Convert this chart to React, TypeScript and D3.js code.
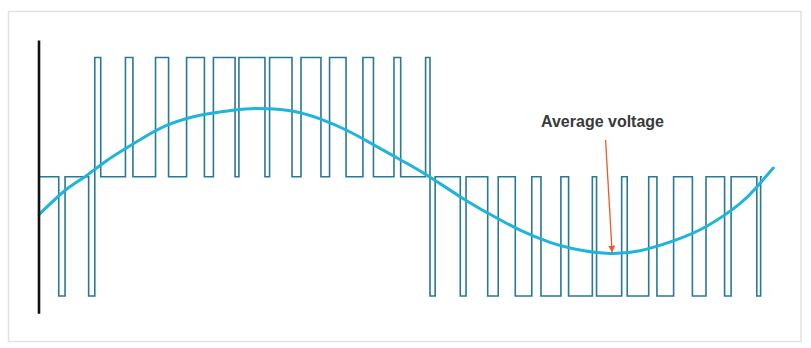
import React, { useEffect, useRef } from "react";
import * as d3 from "d3";

// Phase angle (degrees) of each switching edge, and the output level that follows it.
const pwmTimes = [
  -24.0, -13.7, -10.4, 1.9, 5.1, 8.2, 21.1, 25.0, 36.8, 43.6, 53.0, 62.3, 67.0, 78.3,
  80.3, 93.9, 96.3, 108.0, 112.7, 123.1, 127.6, 136.2, 145.0, 150.5, 161.2, 164.7,
  177.7, 180.0, 182.7, 195.8, 198.8, 210.1, 215.6, 224.5, 233.1, 237.9, 248.3, 252.3,
  264.7, 266.9, 280.0, 282.9, 294.1, 298.4, 307.1, 316.9, 324.0, 333.7, 337.1, 350.5,
  352.5, 353.2,
];
const pwmLevels = [
  0, -1, 0, -1, 1, 0, 1, 0, 1, 0, 1, 0, 1, 0,
  1, 0, 1, 0, 1, 0, 1, 0, 1, 0, 1, 0,
  1, -1, 0, -1, 0, -1, 0, -1, 0, -1, 0, -1,
  0, -1, 0, -1, 0, -1, 0, -1, 0, -1, 0, -1,
  0, 0,
];

// Resulting average voltage across the cycle.
const avgTimes = [
  -24.0, -10.4, 0, 11.3, 28.7, 42.6, 60.0, 77.2, 89.7, 107.0, 122.6, 136.5, 148.7,
  164.3, 178.3, 195.7, 211.3, 227.0, 242.6, 254.8, 272.2, 289.6, 306.9, 324.4, 341.7,
  350.4, 359.1,
];
const avgValues = [
  -0.317, -0.115, 0, 0.135, 0.31, 0.43, 0.515, 0.558, 0.572, 0.553, 0.485, 0.39, 0.285,
  0.145, 0.015, -0.167, -0.315, -0.447, -0.55, -0.603, -0.642, -0.62, -0.538, -0.415,
  -0.226, -0.088, 0.073,
];

const annotationText = "Average voltage";
const annotationAngle = 275;

const W = 811;
const H = 348;

export default function App() {
  const ref = useRef<SVGSVGElement | null>(null);

  useEffect(() => {
    const svg = d3.select(ref.current);
    svg.selectAll("*").remove();

    const x = d3.scaleLinear().domain([-24, 360]).range([39, 775]);
    const y = d3.scaleLinear().domain([-1, 1]).range([296, 57.5]);

    // frame
    svg
      .append("rect")
      .attr("x", 8.5)
      .attr("y", 11.5)
      .attr("width", 792.5)
      .attr("height", 330)
      .attr("fill", "#fff")
      .attr("stroke", "#e2e2e2")
      .attr("stroke-width", 1.5);

    // defs: arrow head
    svg
      .append("defs")
      .append("marker")
      .attr("id", "arrowHead")
      .attr("viewBox", "0 0 10 10")
      .attr("refX", 9)
      .attr("refY", 5)
      .attr("markerWidth", 7)
      .attr("markerHeight", 7)
      .attr("markerUnits", "userSpaceOnUse")
      .attr("orient", "auto")
      .append("path")
      .attr("d", "M0,0 L10,5 L0,10 Z")
      .attr("fill", "#f0582a");

    // PWM output
    const pwmPts: [number, number][] = pwmTimes.map((t, i) => [t, pwmLevels[i]]);
    svg
      .append("path")
      .attr(
        "d",
        d3
          .line<[number, number]>()
          .x((d) => x(d[0]))
          .y((d) => y(d[1]))
          .curve(d3.curveStepAfter)(pwmPts)
      )
      .attr("fill", "none")
      .attr("stroke", "#2a7895")
      .attr("stroke-width", 1.6);

    // average voltage curve
    const avgPts: [number, number][] = avgTimes.map((t, i) => [t, avgValues[i]]);
    svg
      .append("path")
      .attr(
        "d",
        d3
          .line<[number, number]>()
          .x((d) => x(d[0]))
          .y((d) => y(d[1]))
          .curve(d3.curveNatural)(avgPts)
      )
      .attr("fill", "none")
      .attr("stroke", "#1fb4da")
      .attr("stroke-width", 3)
      .attr("stroke-linecap", "round");

    // vertical axis
    svg
      .append("line")
      .attr("x1", x(-24))
      .attr("x2", x(-24))
      .attr("y1", y(1.142))
      .attr("y2", y(-1.148))
      .attr("stroke", "#111")
      .attr("stroke-width", 2.6);

    // annotation
    const idx = d3.bisectLeft(avgTimes, annotationAngle);
    const t0 = avgTimes[idx - 1];
    const t1 = avgTimes[idx];
    const v =
      avgValues[idx - 1] +
      ((annotationAngle - t0) / (t1 - t0)) * (avgValues[idx] - avgValues[idx - 1]);
    svg
      .append("line")
      .attr("x1", x(annotationAngle) - 6.5)
      .attr("y1", 140)
      .attr("x2", x(annotationAngle))
      .attr("y2", y(v) - 1)
      .attr("stroke", "#f0582a")
      .attr("stroke-width", 1.3)
      .attr("marker-end", "url(#arrowHead)");

    svg
      .append("text")
      .attr("x", 541)
      .attr("y", 127)
      .attr("font-family", "'Liberation Sans', Arial, sans-serif")
      .attr("font-weight", "bold")
      .attr("font-size", 16)
      .attr("fill", "#3a3a3a")
      .text(annotationText);
  }, []);

  return (
    <svg
      ref={ref}
      width={W}
      height={H}
      style={{ position: "absolute", left: 0, top: 0, display: "block", background: "#fff" }}
    />
  );
}
